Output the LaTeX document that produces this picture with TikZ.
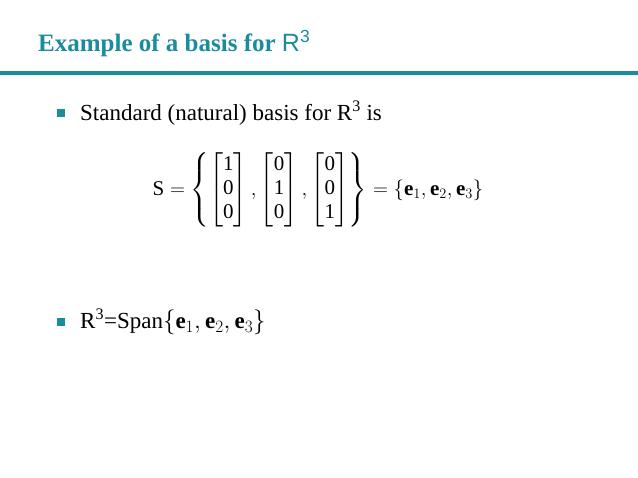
\documentclass[tikz,border=0pt]{standalone}
\usepackage{amsmath}
\usepackage{fontspec}
\setmainfont{Liberation Serif}
\newfontfamily\arialf{Liberation Sans}
\definecolor{teal1}{HTML}{1A8C9C}
\newcommand{\tn}[1]{\text{#1}}
\begin{document}
\begin{tikzpicture}[x=1pt,y=-1pt,
  bul/.style={fill=teal1,minimum size=8pt,inner sep=0pt},
  txt/.style={anchor=west,inner sep=0pt,font=\fontsize{23}{26}\selectfont}]
\useasboundingbox (0,0) rectangle (638,478);
\node[anchor=west,inner sep=0pt,text=teal1,font=\fontsize{25}{28}\selectfont\bfseries] (title) at (38,44) {Example of a basis for {\arialf\mdseries R\textsuperscript{3}}};
\fill[teal1] (0,71) rectangle (638,75);
\node[bul] (b1) at (61,113) {};
\node[txt] (t1) at (80,113) {Standard (natural) basis for R\textsuperscript{3} is};
\node[inner sep=0pt,font=\fontsize{21}{24}\selectfont] (eq) at (318,190) {$\tn{S}=\left\{\begin{bmatrix}\tn{1}\\\tn{0}\\\tn{0}\end{bmatrix},\begin{bmatrix}\tn{0}\\\tn{1}\\\tn{0}\end{bmatrix},\begin{bmatrix}\tn{0}\\\tn{0}\\\tn{1}\end{bmatrix}\right\}=\left\{\mathbf{e}_1,\mathbf{e}_2,\mathbf{e}_3\right\}$};
\node[bul] (b2) at (61,322) {};
\node[txt] (t2) at (80,322) {R\textsuperscript{3}=Span$\left\{\mathbf{e}_1,\mathbf{e}_2,\mathbf{e}_3\right\}$};
\end{tikzpicture}
\end{document}
